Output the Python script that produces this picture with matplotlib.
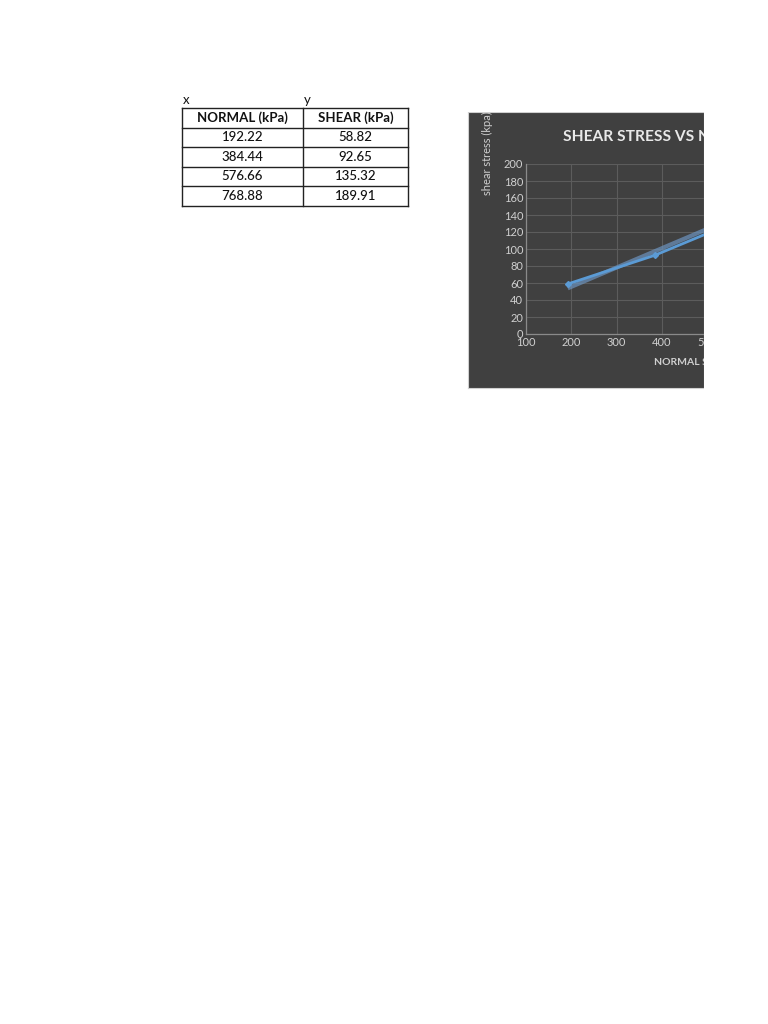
import numpy as np
import matplotlib
matplotlib.use("Agg")
import matplotlib.pyplot as plt
from matplotlib.patches import Rectangle

plt.rcParams["font.family"] = ["Lato", "DejaVu Sans"]

# table / chart data
col_names = ["NORMAL (kPa)", "SHEAR (kPa)"]
col_tags = ["x", "y"]
normal_kpa = [192.22, 384.44, 576.66, 768.88]
shear_kpa = [58.82, 92.65, 135.32, 189.91]
x_ticks = [100, 200, 300, 400, 500, 600]
y_ticks = [0, 20, 40, 60, 80, 100, 120, 140, 160, 180, 200]

W, H = 768, 1024
fig = plt.figure(figsize=(W / 100, H / 100), dpi=100)
fig.patch.set_facecolor("white")


def fx(px):
    return px / W


def fy(py):
    return 1 - py / H


# ---- spreadsheet table ----
tab = fig.add_axes([0, 0, 1, 1])
tab.set_xlim(0, W)
tab.set_ylim(H, 0)
tab.axis("off")

left, mid, right = 182, 303, 408
row_y = [108, 127.5, 147, 166.5, 186, 205.5]
for y in row_y:
    tab.plot([left, right], [y, y], color="#222222", lw=1)
for x in (left, mid, right):
    tab.plot([x, x], [row_y[0], row_y[-1]], color="#222222", lw=1)

tab.text(left + 1, 99.5, col_tags[0], fontsize=9.5, va="center", ha="left", color="#111111")
tab.text(mid + 1, 99.5, col_tags[1], fontsize=9.5, va="center", ha="left", color="#111111")

cx = [(left + mid) / 2, (mid + right) / 2]
rows = [col_names] + [[f"{a:.2f}", f"{b:.2f}"] for a, b in zip(normal_kpa, shear_kpa)]
for i, row in enumerate(rows):
    yc = (row_y[i] + row_y[i + 1]) / 2
    for j, txt in enumerate(row):
        tab.text(cx[j], yc, txt, fontsize=9.5, ha="center", va="center",
                 color="#111111", fontweight="bold" if i == 0 else "medium")

# ---- chart (clipped like the source) ----
bg = "#404040"
bx0, by0, bx1, by1 = 468, 112, 704, 388
chart_bg = fig.add_axes([fx(bx0), fy(by1), fx(bx1 - bx0), (by1 - by0) / H])
chart_bg.set_facecolor(bg)
chart_bg.set_xticks([])
chart_bg.set_yticks([])
for s in chart_bg.spines.values():
    s.set_color("#d0d0d0")
    s.set_linewidth(0.8)

ax_l, ax_t, ax_b = 526, 164, 334
px_per_100 = 45.3
ax_w = px_per_100 * (x_ticks[-1] - x_ticks[0]) / 100
ax = fig.add_axes([fx(ax_l), fy(ax_b), ax_w / W, (ax_b - ax_t) / H])
ax.set_facecolor("none")
ax.set_xlim(x_ticks[0], x_ticks[-1])
ax.set_ylim(y_ticks[0], y_ticks[-1])
ax.set_xticks(x_ticks)
ax.set_yticks(y_ticks)
ax.grid(True, color="#5c5c5c", lw=0.8)
ax.set_axisbelow(True)
ax.tick_params(length=0, labelsize=8, colors="#d0d0d0", pad=2)
for s in ("top", "right"):
    ax.spines[s].set_visible(False)
for s in ("left", "bottom"):
    ax.spines[s].set_color("#8a8a8a")
    ax.spines[s].set_linewidth(0.9)

slope, icept = np.polyfit(normal_kpa, shear_kpa, 1)
xs = np.array([normal_kpa[0], normal_kpa[-1]])
ax.plot(xs, slope * xs + icept, color="#6a8fb8", lw=3, alpha=0.75, zorder=2,
        solid_capstyle="butt")
ax.plot(normal_kpa, shear_kpa, color="#5b9bd5", lw=2, marker="D", ms=3, zorder=3)

fig.text(fx(563), fy(137), "SHEAR STRESS VS NORMAL STRESS", fontsize=11.2,
         fontweight="bold", color="#e8e8e8", ha="left", va="center")
fig.text(fx(654), fy(363), "NORMAL STRESS (kPa)", fontsize=7.5, fontweight="bold",
         color="#d0d0d0", ha="left", va="center")
fig.text(fx(487), fy(195), "shear stress (kpa)", fontsize=8, rotation=90,
         color="#d0d0d0", ha="center", va="bottom")

# white cover where the source picture was cut off
fig.add_artist(Rectangle((fx(bx1), 0), 1 - fx(bx1), 1, transform=fig.transFigure,
                         facecolor="white", edgecolor="none", zorder=20))
fig.add_artist(Rectangle((fx(bx0 - 2), fy(by0)), fx(bx1 - bx0 + 4), 1 - fy(by0),
                         transform=fig.transFigure, facecolor="white",
                         edgecolor="none", zorder=20))

fig.savefig("out.png", dpi=100, facecolor="white")
